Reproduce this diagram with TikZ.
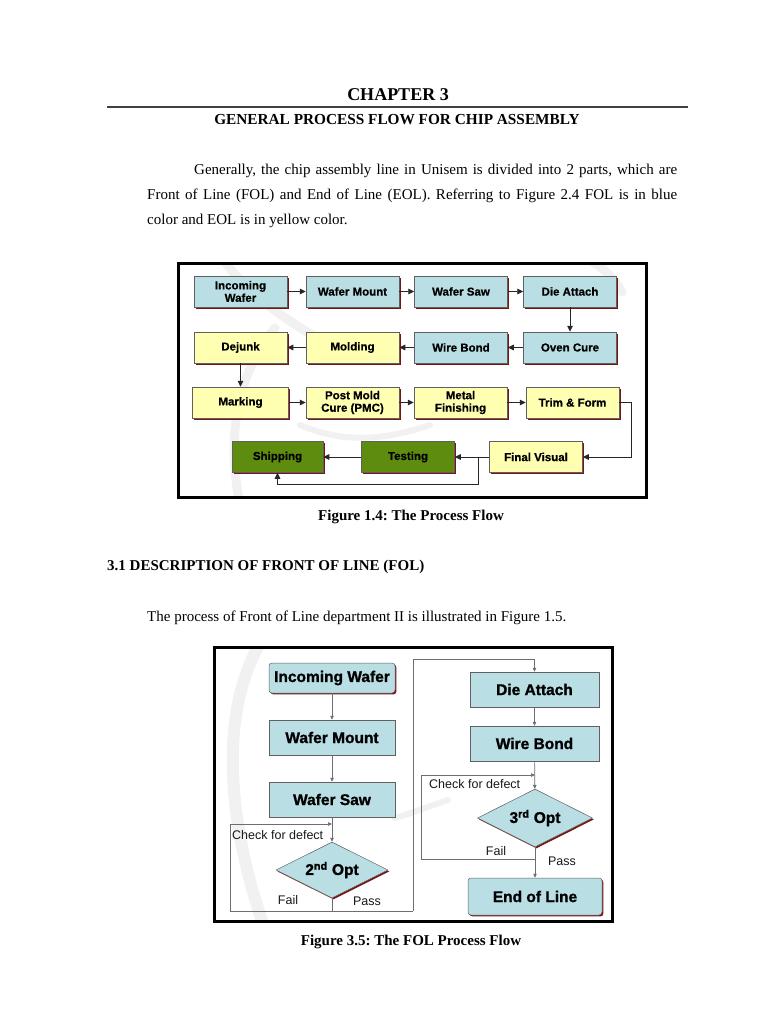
\documentclass[tikz,border=0pt]{standalone}
\usepackage{fontspec}
\setmainfont{Liberation Serif}
\newfontfamily\arialf{Liberation Sans}
\newfontfamily\arialhv[FakeBold=1.2]{Liberation Sans}
\newfontfamily\arialmd[FakeBold=0.6]{Liberation Sans}
\usetikzlibrary{shapes.geometric,shadows,arrows.meta}
\definecolor{fblue}{HTML}{B9DEE3}
\definecolor{fyellow}{HTML}{FFFFB2}
\definecolor{fgreen}{HTML}{5E8C0E}
\definecolor{sred}{HTML}{7A1414}
\definecolor{wmk}{HTML}{F1F1F1}
\definecolor{lgray}{HTML}{6E6E6E}
\frenchspacing
\begin{document}
\begin{tikzpicture}[x=1pt,y=-1pt,
  pbox/.style={rectangle, draw=gray!75!black, line width=0.5pt, minimum width=93pt, minimum height=31pt,
    inner sep=1pt, align=center, font=\arialmd\bfseries\fontsize{11.5}{12.5}\selectfont,
    drop shadow={shadow xshift=1.6pt, shadow yshift=-1.6pt, fill=sred, opacity=1}},
  fb/.style={pbox, fill=fblue},
  fy/.style={pbox, fill=fyellow},
  fg/.style={pbox, fill=fgreen},
  qbox/.style={rectangle, draw=gray!75!black, line width=0.5pt, fill=fblue, minimum width=126pt, minimum height=35pt,
    inner sep=1pt, align=center, font=\arialhv\bfseries\fontsize{15.5}{17}\selectfont,
    drop shadow={shadow xshift=1.4pt, shadow yshift=-1.4pt, fill=sred, opacity=1}},
  qdia/.style={diamond, aspect=2, draw=gray!75!black, line width=0.5pt, fill=fblue, inner sep=0pt,
    font=\arialhv\bfseries\fontsize{15.5}{17}\selectfont,
    drop shadow={shadow xshift=1.4pt, shadow yshift=-1.4pt, fill=sred, opacity=1}},
  arr1/.style={-{Triangle[length=6pt,width=5.5pt]}, line width=0.9pt, black!85},
  ln1/.style={line width=0.9pt, black!85},
  arr2/.style={-{Triangle[length=4pt,width=3.5pt]}, line width=0.7pt, lgray},
  ln2/.style={line width=0.7pt, lgray},
  lab2/.style={font=\arialf\fontsize{12.5}{14}\selectfont, inner sep=0pt, text=black!90},
  frame/.style={draw=black, line width=3pt},
  body/.style={font=\fontsize{15}{18}\selectfont, inner sep=0pt, anchor=base west},
  wmline/.style={draw=wmk, line width=9pt, line cap=round}
]
\useasboundingbox (0,0) rectangle (768,1024);
\fill[white] (0,0) rectangle (768,1024);

% ---------- header ----------
\node[font=\bfseries\fontsize{18}{20}\selectfont, inner sep=0pt, anchor=base] (chap) at (398,101) {CHAPTER 3};
\draw[line width=1.2pt, black!75] (107,107) -- (688,107);
\node[font=\bfseries\fontsize{15.3}{17}\selectfont, inner sep=0pt, anchor=base] (title) at (397,125) {GENERAL PROCESS FLOW FOR CHIP ASSEMBLY};
\node[body] (p1) at (194,175) {\makebox[483pt][s]{Generally, the chip assembly line in Unisem is divided into 2 parts, which are}};
\node[body] (p2) at (147,200) {\makebox[530pt][s]{Front of Line (FOL) and End of Line (EOL). Referring to Figure 2.4 FOL is in blue}};
\node[body] (p3) at (147,225) {color and EOL is in yellow color.};

% ---------- figure 1 ----------
\begin{scope}
\clip (178,263) rectangle (646,497);
\draw[wmline] (222,258) .. controls (245,290) and (280,318) .. (330,345);
\draw[wmline] (275,328) .. controls (240,370) and (225,430) .. (240,505);
\draw[wmline] (585,258) .. controls (600,265) and (612,275) .. (622,292);
\draw[wmline, line width=6pt] (300,425) .. controls (340,442) and (380,442) .. (430,425);
\end{scope}
\draw[frame] (178,263) rectangle (646,497);

\node[fb] (iw) at (240.5,291.5) {Incoming\\Wafer};
\node[fb] (wm) at (352.5,291.5) {Wafer Mount};
\node[fb] (ws) at (461,291.5) {Wafer Saw};
\node[fb] (da) at (570,291.5) {Die Attach};
\node[fy] (dj) at (240.5,347.5) {Dejunk};
\node[fy] (mo) at (352.5,347.5) {Molding};
\node[fb] (wb) at (461,347.5) {Wire Bond};
\node[fb] (oc) at (570,347.5) {Oven Cure};
\node[fy, minimum width=96pt] (mk) at (240.5,402.5) {Marking};
\node[fy] (pmc) at (352.5,402.5) {Post Mold\\Cure (PMC)};
\node[fy] (mf) at (460.5,402.5) {Metal\\Finishing};
\node[fy] (tf) at (572.5,402.5) {Trim \& Form};
\node[fg, minimum width=91pt] (sh) at (277.5,457) {Shipping};
\node[fg] (te) at (408,457) {Testing};
\node[fy] (fv) at (536,457) {Final Visual};

\draw[arr1] (iw) -- (wm);
\draw[arr1] (wm) -- (ws);
\draw[arr1] (ws) -- (da);
\draw[arr1] (da) -- (oc);
\draw[arr1] (oc) -- (wb);
\draw[arr1] (wb) -- (mo);
\draw[arr1] (mo) -- (dj);
\draw[arr1] (dj) -- (mk);
\draw[arr1] (mk) -- (pmc);
\draw[arr1] (pmc) -- (mf);
\draw[arr1] (mf) -- (tf);
\coordinate (c1) at (631,402.5);
\draw[arr1] (tf.east) -- (c1) |- (fv.east);
\draw[arr1] (fv) -- (te);
\draw[arr1] (te) -- (sh);
\coordinate (j1) at (478,457);
\coordinate (j2) at (478,484);
\draw[arr1] (j1) -- (j2) -| (sh.south);

\node[font=\bfseries\fontsize{15}{17}\selectfont, inner sep=0pt, anchor=base] (cap1) at (411,520) {Figure 1.4: The Process Flow};

% ---------- section ----------
\node[font=\bfseries\fontsize{15}{17}\selectfont, inner sep=0pt, anchor=base west] (sec) at (107,570) {3.1 DESCRIPTION OF FRONT OF LINE (FOL)};
\node[body] (p4) at (147,621) {The process of Front of Line department II is illustrated in Figure 1.5.};

% ---------- figure 2 ----------
\begin{scope}
\clip (214,647) rectangle (612,921);
\draw[wmline, line width=12pt] (262,640) .. controls (225,700) and (220,800) .. (265,930);
\draw[wmline, line width=6pt] (395,818) .. controls (415,812) and (430,806) .. (448,800);
\end{scope}
\draw[frame] (214,647) rectangle (612,921);

\node[qbox, minimum height=30pt, rounded corners=3pt] (iw2) at (332,678) {Incoming Wafer};
\node[qbox] (wm2) at (332,737.5) {Wafer Mount};
\node[qbox] (ws2) at (332,799.5) {Wafer Saw};
\node[qdia, minimum width=112pt, minimum height=56pt] (d2) at (332,870) {2\textsuperscript{nd} Opt};
\node[qbox, minimum width=129pt] (da2) at (534.5,689.5) {Die Attach};
\node[qbox, minimum width=129pt] (wb2) at (534.5,743.5) {Wire Bond};
\node[qdia, minimum width=115pt, minimum height=58pt] (d3) at (535,818) {3\textsuperscript{rd} Opt};
\node[qbox, minimum width=134pt, minimum height=37pt, rounded corners=3pt] (eol) at (535,896.5) {End of Line};

\draw[arr2] (iw2) -- (wm2);
\draw[arr2] (wm2) -- (ws2);
\draw[arr2] (ws2) -- (d2);
\coordinate (a1) at (332,911);
\coordinate (a2) at (230,911);
\coordinate (a3) at (230,824);
\coordinate (a4) at (332,824);
\coordinate (a5) at (413,911);
\coordinate (a6) at (413,659);
\coordinate (a7) at (534.5,659);
\draw[ln2] (d2.south) -- (a1);
\draw[arr2] (a5) -- (a2) -- (a3) -- (a4);
\draw[arr2] (a5) -- (a6) -- (a7) -- (da2.north);
\draw[arr2] (da2) -- (wb2);
\draw[arr2] (wb2) -- (d3);
\coordinate (b1) at (421,859);
\coordinate (b2) at (421,775);
\coordinate (b3) at (535,775);
\coordinate (b4) at (535,859);
\draw[arr2] (b4) -- (b1) -- (b2) -- (b3);
\draw[arr2] (d3.south) -- (eol.north);

\node[lab2, anchor=west] (ck1) at (232,835) {Check for defect};
\node[lab2] (f1) at (288,900) {Fail};
\node[lab2] (ps1) at (367,901) {Pass};
\node[lab2, anchor=west] (ck2) at (429,784) {Check for defect};
\node[lab2] (f2) at (496,851) {Fail};
\node[lab2] (ps2) at (562,861) {Pass};

\node[font=\bfseries\fontsize{15}{17}\selectfont, inner sep=0pt, anchor=base] (cap2) at (411,945) {Figure 3.5: The FOL Process Flow};
\end{tikzpicture}
\end{document}
